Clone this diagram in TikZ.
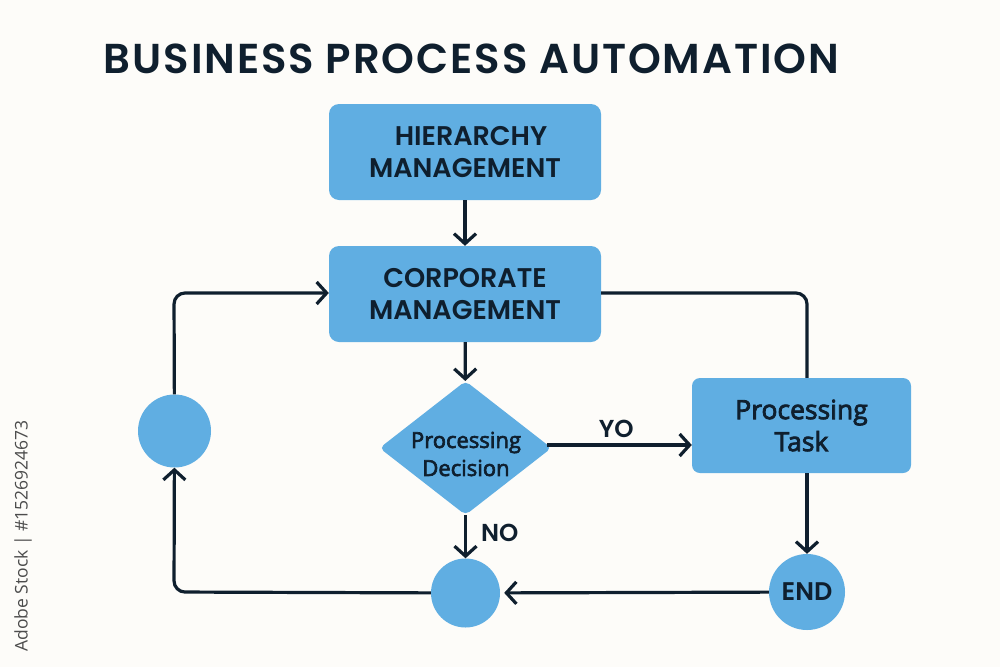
\documentclass[tikz,border=0pt]{standalone}
\usepackage{fontspec}
\setmainfont{Poppins SemiBold}
\newfontfamily\lbl{Open Sans}
\newfontfamily\lblsemi[FakeBold=3]{Open Sans}
\newfontfamily\ttlfont[LetterSpace=4.5]{Poppins SemiBold}
\usetikzlibrary{shapes.geometric,arrows.meta}
\definecolor{bg}{HTML}{FDFCF9}
\definecolor{blu}{HTML}{60AEE2}
\definecolor{ink}{HTML}{0F1F2E}
\tikzset{
  x=1pt,y=-1pt,
  boxnode/.style={fill=blu,rounded corners=10pt,align=center,text=ink,font=\fontsize{27}{32}\selectfont,inner sep=0pt},
  tasknode/.style={fill=blu,rounded corners=8pt,align=center,text=ink,font=\lblsemi\fontsize{26.5}{32}\selectfont,inner sep=0pt},
  decnode/.style={diamond,fill=blu,rounded corners=5pt,aspect=1.3,inner sep=0pt},
  dectext/.style={align=center,text=ink,inner sep=0pt,font=\lblsemi\fontsize{22}{28}\selectfont},
  circnode/.style={circle,fill=blu,inner sep=0pt,text=ink,font=\fontsize{25.5}{26}\selectfont},
  link/.style={draw=ink,line width=3.2pt,rounded corners=11pt,-{Straight Barb[length=10pt,width=22pt,line width=3.2pt]}},
  plain/.style={draw=ink,line width=3.2pt,rounded corners=11pt},
  tag/.style={text=ink,font=\fontsize{24.5}{25}\selectfont,inner sep=0pt}
}
\begin{document}
\begin{tikzpicture}
\fill[bg] (0,0) rectangle (1000,667);
\useasboundingbox (0,0) rectangle (1000,667);
\node[text=ink,font=\ttlfont\fontsize{41.8}{44}\selectfont,inner sep=0pt] (title) at (471.5,58.5) {BUSINESS PROCESS AUTOMATION};
\node[text=black!70,rotate=90,font=\lbl\fontsize{17.5}{20}\selectfont,inner sep=0pt] (stock) at (23,536) {Adobe Stock | \#1526924673};
\node[boxnode,minimum width=272pt,minimum height=96pt] (hier) at (465,152) {\hspace{12pt}HIERARCHY\\MANAGEMENT};
\node[boxnode,minimum width=272pt,minimum height=96pt] (corp) at (465,294) {CORPORATE\\MANAGEMENT};
\node[decnode,minimum width=172pt,minimum height=134pt] (dec) at (465.5,448) {};
\node[dectext] (dectxt) at (466,454) {Processing\\Decision};
\node[tasknode,minimum width=219pt,minimum height=95pt] (task) at (801.5,425.5) {Processing\\Task};
\node[circnode,minimum size=73pt] (left) at (174.5,431) {};
\node[circnode,minimum size=69pt] (no) at (465.5,593) {};
\node[circnode,minimum size=76pt] (end) at (807,592) {END};
\coordinate (tr) at (807,293);
\coordinate (tl) at (174,293);
\coordinate (bl) at (174,592);
\draw[link] (hier) -- (corp);
\draw[link] (corp) -- (dec);
\draw[link] ([xshift=-5pt,yshift=3pt]dec.east) -- ([yshift=3pt]dec.east -| task.west) node[tag,midway,above=6pt,xshift=-3pt] (yo) {YO};
\draw[link] (dec) -- (no) node[tag,pos=0.42,right=14pt] (nolabel) {NO};
\draw[plain] (corp.east |- tr) -- (tr) -- (tr |- task.north);
\draw[link] (tr |- task.south) -- (tr |- end.north);
\draw[link,shorten >=4pt] (end) -- (no);
\draw[link] (left) -- (tl) -- (corp.west |- tl);
\draw[link] (no) -- (bl) -- (left);
\end{tikzpicture}
\end{document}
